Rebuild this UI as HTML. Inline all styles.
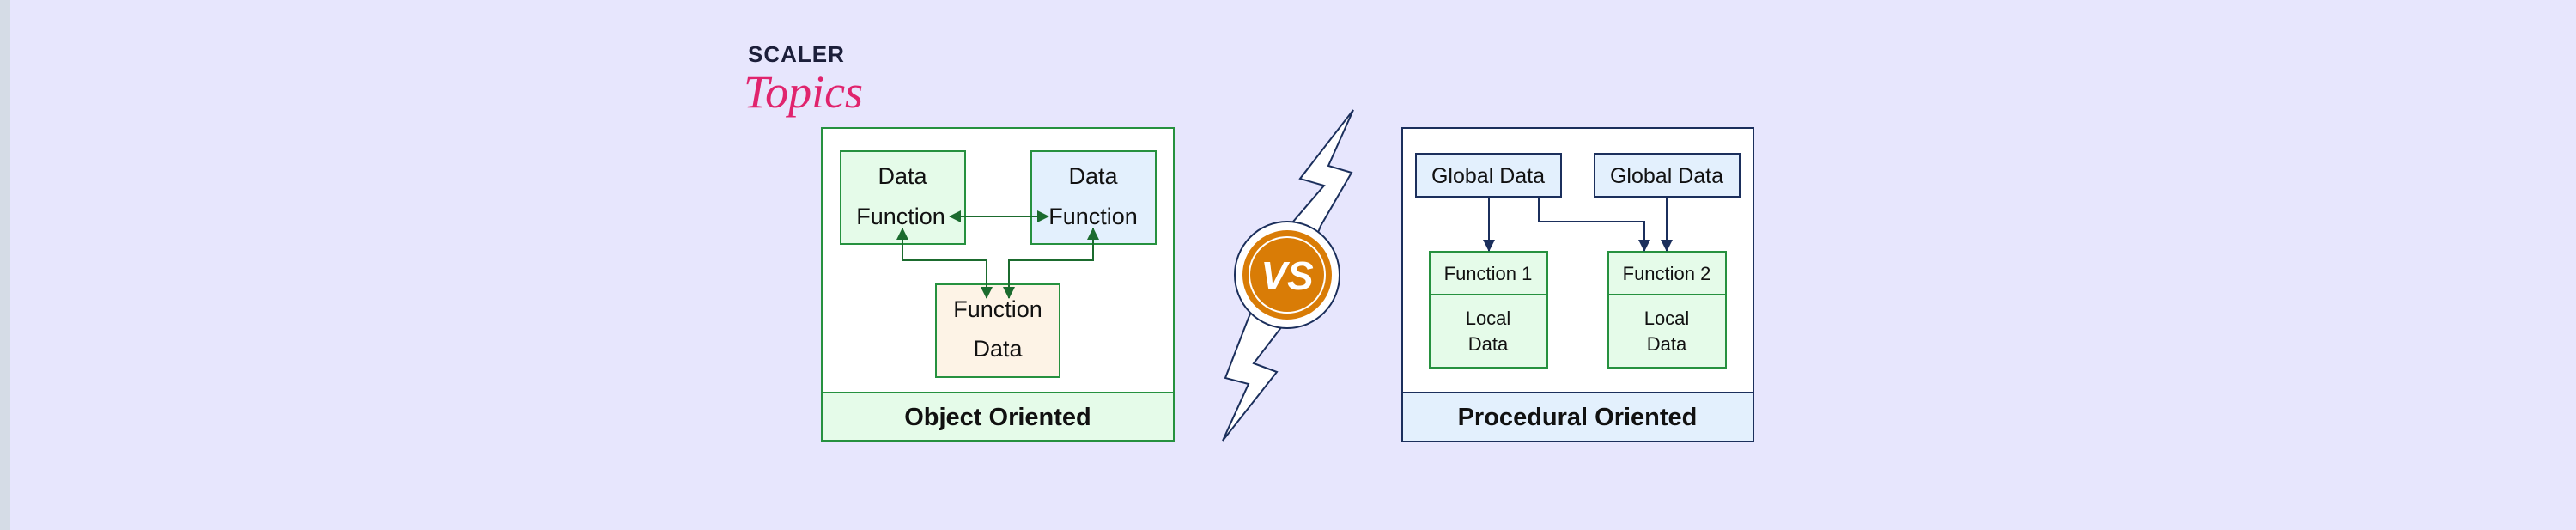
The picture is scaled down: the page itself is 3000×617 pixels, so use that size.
<!DOCTYPE html>
<html><head><meta charset="utf-8"><style>
html,body{margin:0;padding:0;width:3000px;height:617px;overflow:hidden;background:#e7e6fd}
svg{display:block}
text{font-family:"Liberation Sans",sans-serif;fill:#111}
</style></head><body>
<svg width="3000" height="617" viewBox="0 0 3000 617" xmlns="http://www.w3.org/2000/svg">
<defs>
<marker id="ga" markerWidth="14" markerHeight="14" refX="13" refY="7" orient="auto" markerUnits="userSpaceOnUse" viewBox="0 0 14 14"><path d="M0,0L14,7L0,14z" fill="#1b6b2e"/></marker>
<marker id="ba" markerWidth="14" markerHeight="14" refX="13" refY="7" orient="auto" markerUnits="userSpaceOnUse" viewBox="0 0 14 14"><path d="M0,0L14,7L0,14z" fill="#1b2f5c"/></marker>
</defs>
<rect x="0" y="0" width="3000" height="617" fill="#e7e6fd"/>
<rect x="0" y="0" width="12" height="617" fill="#d5dce6"/>
<!-- logo -->
<text x="871" y="72" font-size="26" font-weight="bold" style="fill:#1c1f3a;letter-spacing:1px">SCALER</text>
<text x="866" y="125" font-size="54" font-style="italic" style="fill:#e0246d;font-family:'Liberation Serif',serif">Topics</text>
<!-- OO box -->
<rect x="957" y="149" width="410" height="364" fill="#fff" stroke="#26913f" stroke-width="2"/>
<rect x="957" y="457" width="410" height="56" fill="#e5fbe9" stroke="#26913f" stroke-width="2"/>
<text x="1162" y="495" font-size="29" font-weight="bold" text-anchor="middle">Object Oriented</text>
<rect x="979" y="176" width="145" height="108" fill="#e5fbe9" stroke="#26913f" stroke-width="2"/>
<text x="1051" y="214" font-size="27" text-anchor="middle">Data</text>
<text x="1049" y="261" font-size="27" text-anchor="middle">Function</text>
<rect x="1201" y="176" width="145" height="108" fill="#e3f0fd" stroke="#26913f" stroke-width="2"/>
<text x="1273" y="214" font-size="27" text-anchor="middle">Data</text>
<text x="1273" y="261" font-size="27" text-anchor="middle">Function</text>
<rect x="1090" y="331" width="144" height="108" fill="#fdf3e6" stroke="#26913f" stroke-width="2"/>
<text x="1162" y="369" font-size="27" text-anchor="middle">Function</text>
<text x="1162" y="415" font-size="27" text-anchor="middle">Data</text>
<g stroke="#1b6b2e" stroke-width="2" fill="none">
<line x1="1160" y1="252" x2="1106" y2="252" marker-end="url(#ga)"/>
<line x1="1160" y1="252" x2="1221" y2="252" marker-end="url(#ga)"/>
<polyline points="1149,346 1149,303 1051,303 1051,266" marker-end="url(#ga)"/>
<polyline points="1051,303 1149,303 1149,347" marker-end="url(#ga)"/>
<polyline points="1175,303 1273,303 1273,266" marker-end="url(#ga)"/>
<polyline points="1273,303 1175,303 1175,347" marker-end="url(#ga)"/>
</g>
<!-- lightning -->
<path d="M1576,128 L1547,193 L1574,201 L1538,263 L1493,380 L1460,423 L1487,433 L1424,513 L1454,447 L1427,440 L1454,370 L1506,258 L1542,216 L1514,208 Z" fill="#fff" stroke="#1b2f5c" stroke-width="2"/>
<ellipse cx="1499" cy="320" rx="61" ry="62" fill="#fff" stroke="#1b2f5c" stroke-width="2"/>
<circle cx="1499" cy="320" r="52" fill="#d97c06"/>
<circle cx="1499" cy="320" r="44" fill="none" stroke="#fff" stroke-width="2"/>
<text x="1499" y="337" font-size="46" font-weight="bold" font-style="italic" text-anchor="middle" style="fill:#fff">VS</text>
<!-- PO box -->
<rect x="1633" y="149" width="409" height="365" fill="#fff" stroke="#1b2f5c" stroke-width="2"/>
<rect x="1633" y="457" width="409" height="57" fill="#e3f0fd" stroke="#1b2f5c" stroke-width="2"/>
<text x="1837" y="495" font-size="29" font-weight="bold" text-anchor="middle">Procedural Oriented</text>
<rect x="1649" y="179" width="169" height="50" fill="#e3f0fd" stroke="#1b2f5c" stroke-width="2"/>
<text x="1733" y="213" font-size="25" text-anchor="middle">Global Data</text>
<rect x="1857" y="179" width="169" height="50" fill="#e3f0fd" stroke="#1b2f5c" stroke-width="2"/>
<text x="1941" y="213" font-size="25" text-anchor="middle">Global Data</text>
<rect x="1665" y="293" width="137" height="135" fill="#e5fbe9" stroke="#26913f" stroke-width="2"/>
<line x1="1665" y1="343" x2="1802" y2="343" stroke="#26913f" stroke-width="2"/>
<text x="1733" y="326" font-size="22" text-anchor="middle">Function 1</text>
<text x="1733" y="378" font-size="22" text-anchor="middle">Local</text>
<text x="1733" y="408" font-size="22" text-anchor="middle">Data</text>
<rect x="1873" y="293" width="137" height="135" fill="#e5fbe9" stroke="#26913f" stroke-width="2"/>
<line x1="1873" y1="343" x2="2010" y2="343" stroke="#26913f" stroke-width="2"/>
<text x="1941" y="326" font-size="22" text-anchor="middle">Function 2</text>
<text x="1941" y="378" font-size="22" text-anchor="middle">Local</text>
<text x="1941" y="408" font-size="22" text-anchor="middle">Data</text>
<g stroke="#1b2f5c" stroke-width="2" fill="none">
<line x1="1734" y1="229" x2="1734" y2="292" marker-end="url(#ba)"/>
<polyline points="1792,229 1792,258 1915,258 1915,292" marker-end="url(#ba)"/>
<line x1="1941" y1="229" x2="1941" y2="292" marker-end="url(#ba)"/>
</g>
</svg>
</body></html>
